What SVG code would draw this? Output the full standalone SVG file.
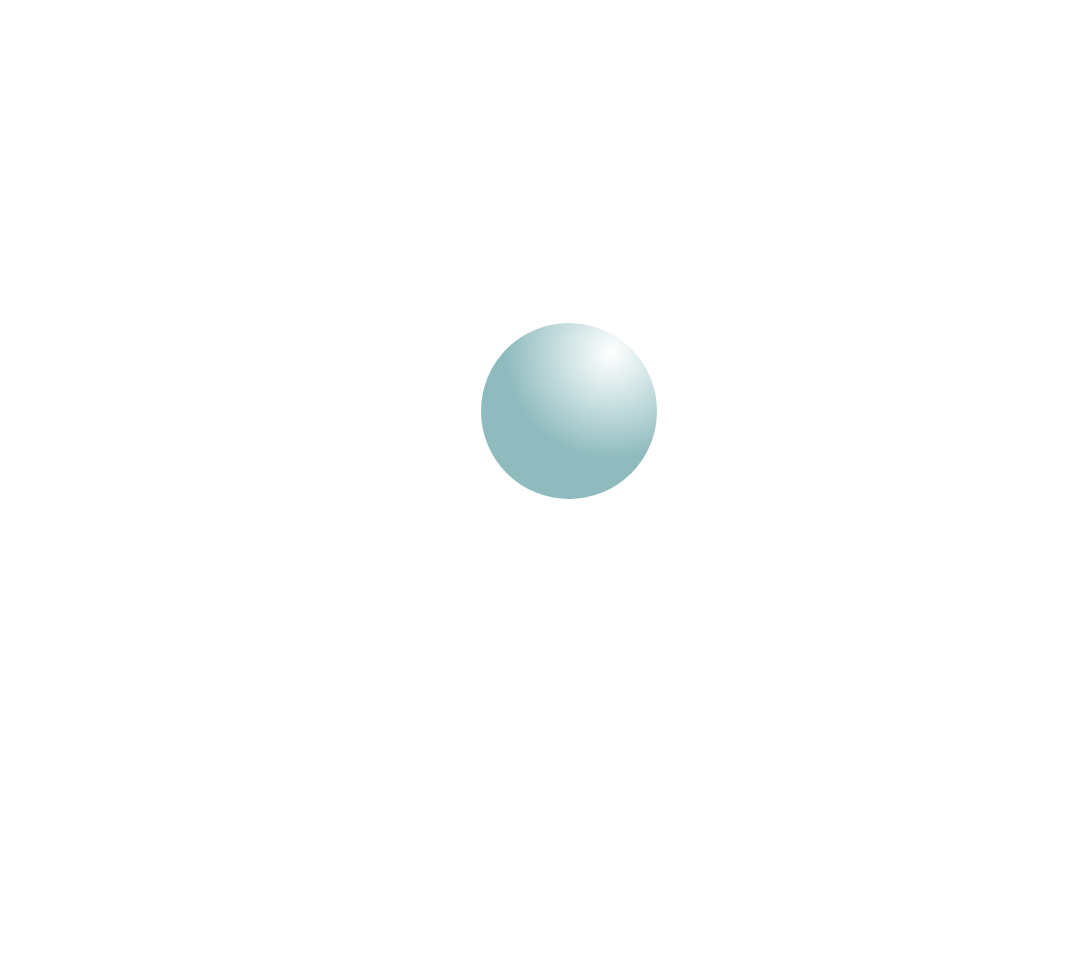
<svg xmlns="http://www.w3.org/2000/svg" width="1080" height="954" viewBox="0 0 1080 954">
<defs>
<radialGradient id="g" cx="0.74" cy="0.17" r="0.75" fx="0.74" fy="0.17">
<stop offset="0" stop-color="#ffffff"/>
<stop offset="0.35" stop-color="#cfe3e4"/>
<stop offset="0.8" stop-color="#8fbbbf"/>
<stop offset="1" stop-color="#8fbbbf"/>
</radialGradient>
</defs>
<rect width="1080" height="954" fill="#ffffff"/>
<g id="sphere"><circle cx="569" cy="411" r="88" fill="url(#g)"/></g>
<g id="connectors"/>
</svg>
